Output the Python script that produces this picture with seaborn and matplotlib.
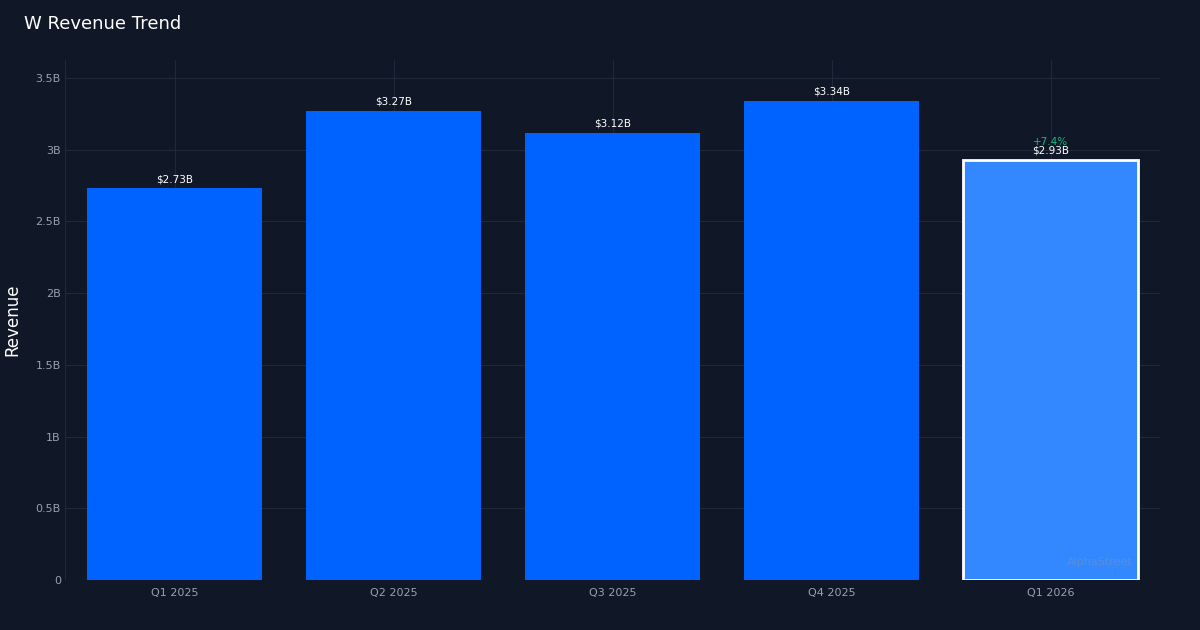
import matplotlib
matplotlib.use("Agg")
import matplotlib.pyplot as plt
import seaborn as sns
import pandas as pd

# 数据
quarters = ["Q1 2025", "Q2 2025", "Q3 2025", "Q4 2025", "Q1 2026"]
revenue = [2.73, 3.27, 3.12, 3.34, 2.93]  # 单位: 十亿美元
bar_labels = ["$2.73B", "$3.27B", "$3.12B", "$3.34B", "$2.93B"]
growth_label = "+7.4%"
y_ticks = [0, 0.5, 1, 1.5, 2, 2.5, 3, 3.5]
y_tick_labels = ["0", "0.5B", "1B", "1.5B", "2B", "2.5B", "3B", "3.5B"]

bg = "#101828"
grid_c = "#1e2939"
base_c = "#0062ff"
last_c = "#3388ff"

sns.set_theme(style="dark")
plt.rcParams["font.family"] = ["DejaVu Sans"]

df = pd.DataFrame({"quarter": quarters, "revenue": revenue})

fig = plt.figure(figsize=(12, 6.3), dpi=100, facecolor=bg)
ax = fig.add_axes([65 / 1200, 50 / 630, 1095 / 1200, 520 / 630])
ax.set_facecolor(bg)

palette = [base_c] * (len(quarters) - 1) + [last_c]
sns.barplot(data=df, x="quarter", y="revenue", hue="quarter", palette=palette,
            width=0.8, legend=False, ax=ax, saturation=1, zorder=2,
            edgecolor="none", linewidth=0)

# 最后一根柱子加白边
last_bar = ax.patches[len(quarters) - 1]
last_bar.set_edgecolor("white")
last_bar.set_linewidth(2)

# 柱顶数值
for i, (v, lab) in enumerate(zip(revenue, bar_labels)):
    ax.text(i, v + 0.03, lab, ha="center", va="bottom", color="white", fontsize=7.5, zorder=4)
ax.text(len(quarters) - 1, revenue[-1] + 0.09, growth_label, ha="center", va="bottom",
        color="#10b981", fontsize=7.5, zorder=3)

ax.set_xlim(-0.5, len(quarters) - 0.5)
ax.set_ylim(0, 3.626)
ax.set_yticks(y_ticks)
ax.set_yticklabels(y_tick_labels)
ax.grid(True, axis="both", color=grid_c, linewidth=0.8, zorder=0)
ax.set_axisbelow(True)
for s in ax.spines.values():
    s.set_visible(False)
ax.axvline(-0.5, color=grid_c, linewidth=0.8, zorder=0)
ax.axhline(0, color=grid_c, linewidth=0.8, zorder=1)

ax.tick_params(axis="y", colors="#99a1af", labelsize=8, length=0, pad=3)
ax.tick_params(axis="x", colors="#99a1af", labelsize=8, length=0, pad=6)
ax.set_xlabel("")
ax.set_ylabel("Revenue", color="white", fontsize=12)
ax.yaxis.set_label_coords(-44 / 1095, 0.5)

# 标题与水印
fig.text(24 / 1200, 1 - 24 / 630, "W Revenue Trend", color="white", fontsize=13,
         ha="left", va="center")
ax.text(0.975, 0.035, "AlphaStreet", transform=ax.transAxes, ha="right", va="center",
        color="#8a94a6", alpha=0.45, fontsize=8, zorder=5)

plt.savefig("out.png", dpi=100, facecolor=bg)
plt.close()
